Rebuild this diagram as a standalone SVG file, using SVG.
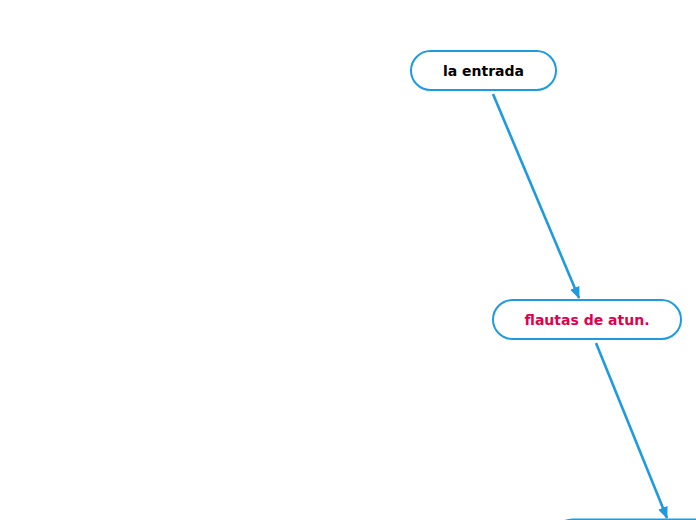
<svg xmlns="http://www.w3.org/2000/svg" width="696" height="520" viewBox="0 0 696 520">
<style>
.node rect{fill:#fff;stroke:#1e9be0;stroke-width:2}
.node text{font-family:"DejaVu Sans",sans-serif;font-weight:bold;font-size:14px;text-anchor:middle;dominant-baseline:central}
.conn line{stroke:#1e9be0;stroke-width:2.6;marker-end:url(#arr)}
</style>
<defs>
<marker id="arr" viewBox="0 0 12 10" refX="11" refY="5" markerWidth="12" markerHeight="10" orient="auto" markerUnits="userSpaceOnUse">
<path d="M0,0 L12,5 L0,10 z" fill="#1e9be0"/>
</marker>
</defs>
<rect width="696" height="520" fill="#fff"/>
<g class="conn">
<line x1="493" y1="94" x2="579" y2="298"/>
<line x1="596" y1="343" x2="667" y2="518"/>
</g>
<g id="n1" class="node">
<rect x="411" y="51" width="145" height="39" rx="19.5"/>
<text x="483.5" y="71" fill="#000">la entrada</text>
</g>
<g id="n2" class="node">
<rect x="493" y="300" width="188" height="39" rx="19.5"/>
<text x="587" y="320" fill="#e0004d">flautas de atun.</text>
</g>
<g id="n3" class="node">
<rect x="553" y="519.5" width="180" height="39" rx="19.5"/>
</g>
</svg>
